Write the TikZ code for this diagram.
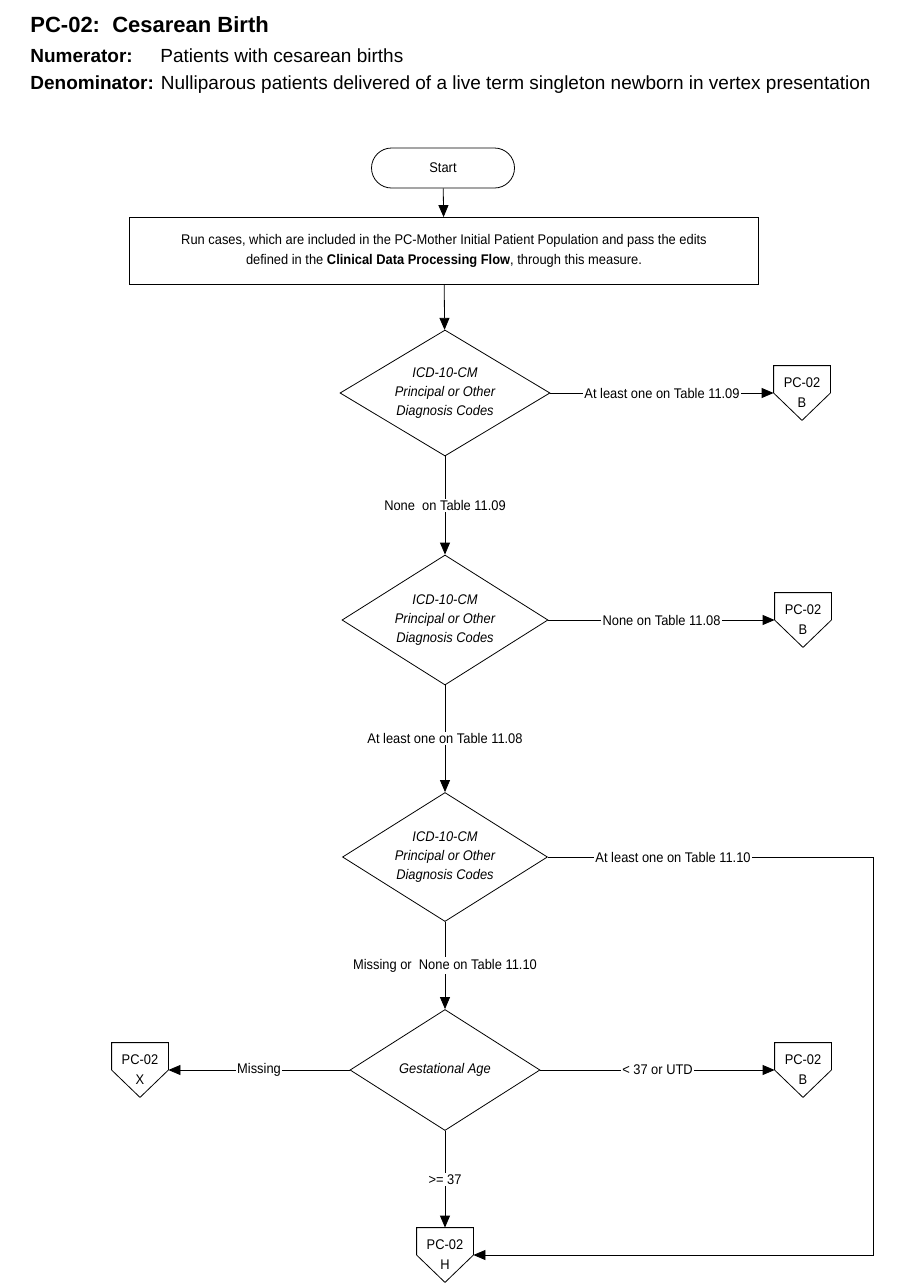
\documentclass[tikz,border=0pt]{standalone}
\usepackage{fontspec}
\setmainfont{Liberation Sans}[FakeStretch=0.92]
\newfontfamily\headfont{Liberation Sans}
\usetikzlibrary{shapes.geometric, arrows.meta, positioning}

\begin{document}
\begin{tikzpicture}[x=1pt, y=-1pt, line width=0.8pt,
terminal/.style={rectangle, rounded corners=20pt, draw, minimum width=143pt,
minimum height=40pt, font=\fontsize{14}{17}\selectfont},
process/.style={rectangle, draw, minimum width=629pt, minimum height=67pt,
align=center, font=\fontsize{14}{20}\selectfont},
decision/.style={diamond, draw, aspect=1.6, inner sep=0pt, align=center,
font=\itshape\fontsize{14}{19}\selectfont},
offpage/.style={rectangle, minimum width=56pt, minimum height=54pt,
inner sep=0pt, align=center, font=\fontsize{14}{20}\selectfont},
arrow/.style={-{Triangle[length=12pt,width=10pt]}},
lbl/.style={fill=white, inner sep=1.5pt, font=\fontsize{14}{17}\selectfont}]

\useasboundingbox (0,0) rectangle (900,1286);

% header
\node[anchor=base west, inner sep=0pt, font=\headfont\bfseries\fontsize{22}{26}\selectfont] (title)
    at (30,32) {PC-02:\ \ Cesarean Birth};
\node[anchor=base west, inner sep=0pt, font=\headfont\bfseries\fontsize{19}{22}\selectfont] (numlbl)
    at (30,62) {Numerator:};
\node[anchor=base west, inner sep=0pt, font=\headfont\fontsize{19}{22}\selectfont] (numtxt)
    at (160,62) {Patients with cesarean births};
\node[anchor=base west, inner sep=0pt, font=\headfont\fontsize{19}{22}\selectfont] (dentxt)
    at (30,89) {\textbf{Denominator:} Nulliparous patients delivered of a live term singleton newborn in vertex presentation};

% flow
\node[terminal] (start) at (443,168) {Start};
\node[process] (run) at (444,251)
    {Run cases, which are included in the PC-Mother Initial Patient Population and pass the edits\\
    defined in the \textbf{Clinical Data Processing Flow}, through this measure.};
\node[decision, minimum width=210pt, minimum height=126pt] (icd1) at (445,393)
    {ICD-10-CM\\Principal or Other\\Diagnosis Codes};
\node[decision, minimum width=206pt, minimum height=130pt] (icd2) at (445,620)
    {ICD-10-CM\\Principal or Other\\Diagnosis Codes};
\node[decision, minimum width=205pt, minimum height=129pt] (icd3) at (445,857)
    {ICD-10-CM\\Principal or Other\\Diagnosis Codes};
\node[decision, minimum width=190pt, minimum height=121pt] (gest) at (445,1070)
    {Gestational Age};

% off-page connectors
\node[offpage] (pcb1) at (802,393) {PC-02\\B};
\node[offpage] (pcb2) at (803,620) {PC-02\\B};
\node[offpage] (pcb3) at (803,1070) {PC-02\\B};
\node[offpage] (pcx) at (140,1070) {PC-02\\X};
\node[offpage] (pch) at (445,1255) {PC-02\\H};
\foreach \n in {pcb1,pcb2,pcb3,pcx,pch}
    \draw (\n.north west) -- (\n.north east) -- (\n.east) -- (\n.south) -- (\n.west) -- cycle;

\coordinate (rail) at (873,857);

\draw[arrow] (start) -- (run);
\draw[arrow] (run)   -- (icd1);
\draw[arrow] (icd1.east) -- node[lbl]{At least one on Table 11.09} (pcb1.west);
\draw[arrow] (icd1) -- node[lbl]{None\ \ on Table 11.09} (icd2);
\draw[arrow] (icd2.east) -- node[lbl]{None on Table 11.08} (pcb2.west);
\draw[arrow] (icd2) -- node[lbl]{At least one on Table 11.08} (icd3);
\draw[arrow] (icd3.east) -- node[lbl, pos=0.385]{At least one on Table 11.10} (rail) |- (pch.east);
\draw[arrow] (icd3) -- node[lbl]{Missing or\ \ None on Table 11.10} (gest);
\draw[arrow] (gest.west) -- node[lbl]{Missing} (pcx.east);
\draw[arrow] (gest.east) -- node[lbl]{< 37 or UTD} (pcb3.west);
\draw[arrow] (gest) -- node[lbl]{>= 37} (pch);
\end{tikzpicture}
\end{document}
